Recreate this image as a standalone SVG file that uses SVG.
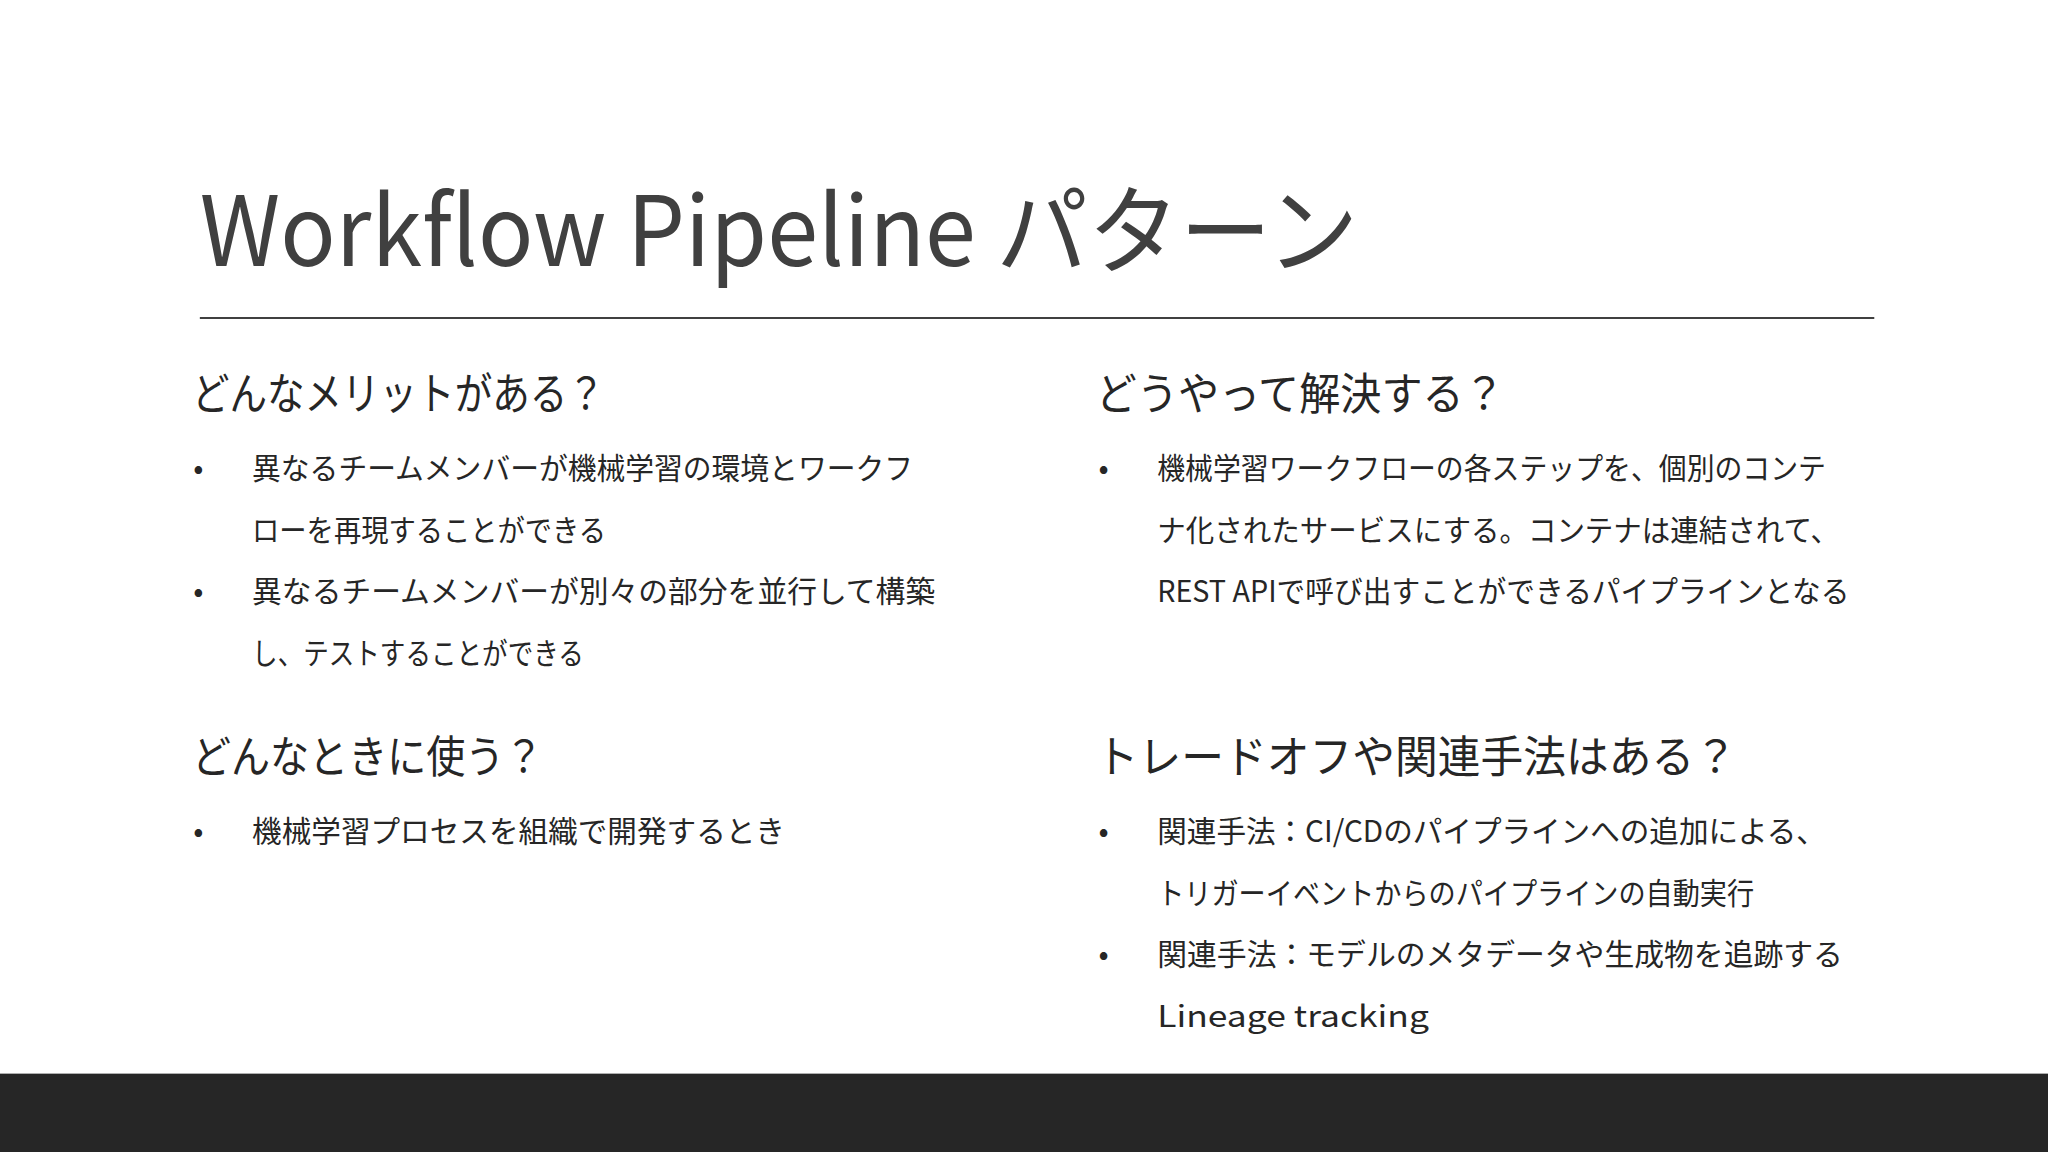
<svg xmlns="http://www.w3.org/2000/svg" width="2048" height="1152" viewBox="0 0 2048 1152">
<style>
text{font-family:"Noto Sans CJK JP","Noto Sans",sans-serif;fill:#262626}
.t{font-size:74px;fill:#404040}
.h{font-size:34px}
.b{font-size:23px}
</style>
<rect width="2048" height="1152" fill="#fff"/>
<g transform="scale(1.30612)">
<text class="t" x="153" y="204" textLength="887" lengthAdjust="spacingAndGlyphs">Workflow Pipeline パターン</text>
<line x1="153" y1="243.5" x2="1435" y2="243.5" stroke="#404040" stroke-width="1.5"/>
<g id="merit">
<text class="h" x="147" y="314" textLength="316" lengthAdjust="spacingAndGlyphs">どんなメリットがある？</text>
<text class="b" x="148" y="367">•</text>
<text class="b" x="193" y="367" textLength="506" lengthAdjust="spacingAndGlyphs">異なるチームメンバーが機械学習の環境とワークフ</text>
<text class="b" x="193" y="414" textLength="271" lengthAdjust="spacingAndGlyphs">ローを再現することができる</text>
<text class="b" x="148" y="461">•</text>
<text class="b" x="193" y="461" textLength="523" lengthAdjust="spacingAndGlyphs">異なるチームメンバーが別々の部分を並行して構築</text>
<text class="b" x="193" y="508" textLength="254" lengthAdjust="spacingAndGlyphs">し、テストすることができる</text>
</g>
<g id="solve">
<text class="h" x="839" y="314" textLength="313" lengthAdjust="spacingAndGlyphs">どうやって解決する？</text>
<text class="b" x="841" y="367">•</text>
<text class="b" x="886" y="367" textLength="512" lengthAdjust="spacingAndGlyphs">機械学習ワークフローの各ステップを、個別のコンテ</text>
<text class="b" x="886" y="414" textLength="522" lengthAdjust="spacingAndGlyphs">ナ化されたサービスにする。コンテナは連結されて、</text>
<text class="b" x="886" y="461" textLength="530" lengthAdjust="spacingAndGlyphs">REST APIで呼び出すことができるパイプラインとなる</text>
</g>
<g id="when">
<text class="h" x="147" y="592" textLength="269" lengthAdjust="spacingAndGlyphs">どんなときに使う？</text>
<text class="b" x="148" y="645">•</text>
<text class="b" x="193" y="645" textLength="408" lengthAdjust="spacingAndGlyphs">機械学習プロセスを組織で開発するとき</text>
</g>
<g id="tradeoff">
<text class="h" x="839" y="592" textLength="491" lengthAdjust="spacingAndGlyphs">トレードオフや関連手法はある？</text>
<text class="b" x="841" y="645">•</text>
<text class="b" x="886" y="645" textLength="512" lengthAdjust="spacingAndGlyphs">関連手法：CI/CDのパイプラインへの追加による、</text>
<text class="b" x="886" y="692" textLength="457" lengthAdjust="spacingAndGlyphs">トリガーイベントからのパイプラインの自動実行</text>
<text class="b" x="841" y="739">•</text>
<text class="b" x="886" y="739" textLength="525" lengthAdjust="spacingAndGlyphs">関連手法：モデルのメタデータや生成物を追跡する</text>
<text class="b" x="886" y="786" textLength="208" lengthAdjust="spacingAndGlyphs">Lineage tracking</text>
</g>
<rect x="0" y="822" width="1568" height="60" fill="#262626"/>
</g>
</svg>
